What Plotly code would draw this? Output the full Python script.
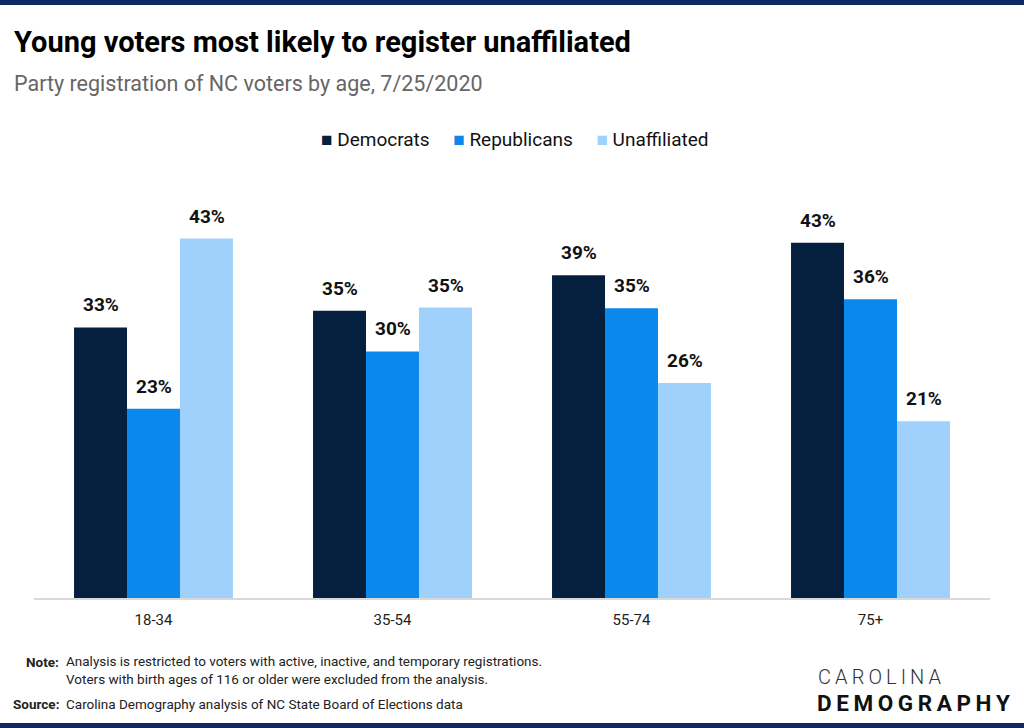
import plotly.graph_objects as go

categories = ["18-34", "35-54", "55-74", "75+"]
series_names = ["Democrats", "Republicans", "Unaffiliated"]
democrats = [32.6, 34.6, 38.9, 42.8]
republicans = [22.8, 29.7, 34.9, 36.0]
unaffiliated = [43.3, 35.0, 25.9, 21.3]
colors = ["#05203f", "#0a88ec", "#a0d1fd"]

FONT = "Roboto, sans-serif"

W, H = 1024, 728
ML, MR, MT, MB = 34, 34, 183, 130
plot_h = H - MT - MB


def py(p):
    # pixel y (from top) -> paper y
    return (H - MB - p) / plot_h


def px(p):
    return (p - ML) / (W - ML - MR)


fig = go.Figure()
values = [democrats, republicans, unaffiliated]
for name, vals, col in zip(series_names, values, colors):
    fig.add_trace(go.Bar(
        x=categories, y=vals, name=name,
        marker=dict(color=col, line=dict(width=0)),
        hoverinfo="skip", showlegend=False,
    ))

annotations = []
bar_w = 53
for i, vals in enumerate(values):
    for c, v in zip(categories, vals):
        annotations.append(dict(
            x=c, y=v, xref="x", yref="y", text=f"<b>{round(v)}%</b>",
            showarrow=False, xshift=(i - 1) * bar_w, yshift=9,
            yanchor="bottom", font=dict(family=FONT, size=19, color="#111111"),
        ))

# manual legend (small squares close to labels)
sep = "\u00a0" * 5
legend_text = sep.join(
    f"<span style='color:{col}'>\u25a0</span>\u00a0{name}"
    for name, col in zip(series_names, colors)
)
annotations.append(dict(
    x=px(515), y=py(140), xref="paper", yref="paper", xanchor="center", yanchor="middle",
    text=legend_text, showarrow=False,
    font=dict(family=FONT, size=19, color="#111111")))

# title & subtitle
annotations.append(dict(
    x=px(12), y=py(42), xref="paper", yref="paper", xanchor="left", yanchor="middle",
    text="<b>Young voters most likely to register unaffiliated</b>", showarrow=False,
    font=dict(family=FONT, size=29, color="#000000")))
annotations.append(dict(
    x=px(12), y=py(84), xref="paper", yref="paper", xanchor="left", yanchor="middle",
    text="Party registration of NC voters by age, 7/25/2020", showarrow=False,
    font=dict(family=FONT, size=21.5, color="#666666")))

# notes
note_font = dict(family=FONT, size=13.5, color="#222222")
annotations += [
    dict(x=px(61), y=py(662), xref="paper", yref="paper", xanchor="right", yanchor="middle",
         text="<b>Note:</b>", showarrow=False, font=note_font),
    dict(x=px(64), y=py(670), xref="paper", yref="paper", xanchor="left", yanchor="middle",
         text="Analysis is restricted to voters with active, inactive, and temporary registrations.<br>"
              "Voters with birth ages of 116 or older were excluded from the analysis.",
         showarrow=False, align="left", font=note_font),
    dict(x=px(61), y=py(704), xref="paper", yref="paper", xanchor="right", yanchor="middle",
         text="<b>Source:</b>", showarrow=False, font=note_font),
    dict(x=px(64), y=py(704), xref="paper", yref="paper", xanchor="left", yanchor="middle",
         text="Carolina Demography analysis of NC State Board of Elections data",
         showarrow=False, font=note_font),
]

# logo
annotations += [
    dict(x=px(816), y=py(677), xref="paper", yref="paper", xanchor="left", yanchor="middle",
         text="\u2009".join("CAROLINA"), showarrow=False,
         font=dict(family=FONT, size=20, color="#333333", weight=300)),
    dict(x=px(815), y=py(703), xref="paper", yref="paper", xanchor="left", yanchor="middle",
         text="<b>" + "\u2009".join("DEMOGRAPHY") + "</b>", showarrow=False,
         font=dict(family=FONT, size=22.5, color="#111111")),
]

shapes = [
    dict(type="rect", xref="paper", yref="paper", x0=px(0), x1=px(W), y0=py(0), y1=py(5),
         fillcolor="#0f2a63", line=dict(width=0), layer="above"),
    dict(type="rect", xref="paper", yref="paper", x0=px(0), x1=px(W), y0=py(723), y1=py(H),
         fillcolor="#0f2a63", line=dict(width=0), layer="above"),
]

fig.update_layout(
    width=W, height=H,
    margin=dict(l=ML, r=MR, t=MT, b=MB, pad=0),
    paper_bgcolor="white", plot_bgcolor="white",
    barmode="group", bargap=0.335, bargroupgap=0,
    showlegend=False,
    xaxis=dict(showline=True, linecolor="#d9d9d9", linewidth=2, ticks="",
               ticklabelstandoff=7,
               tickfont=dict(family=FONT, size=15, color="#222222"), showgrid=False),
    yaxis=dict(range=[0, 50], visible=False, showgrid=False, zeroline=False),
    annotations=annotations,
    shapes=shapes,
)

fig.write_html("out.html")
